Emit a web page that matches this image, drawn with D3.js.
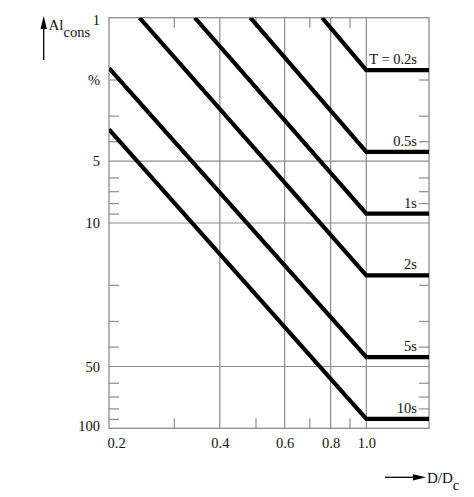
<!DOCTYPE html>
<html>
<head>
<meta charset="utf-8">
<script src="https://cdn.jsdelivr.net/npm/d3@7/dist/d3.min.js"></script>
<style>
  html, body { margin: 0; padding: 0; background: #fff; }
  svg { display: block; }
  text { font-family: "Liberation Serif", "DejaVu Serif", serif; fill: #111; }
</style>
</head>
<body>
<script>
// ---- data ----
const curveLabels = ["T = 0.2s", "0.5s", "1s", "2s", "5s", "10s"];
const startX      = [0.758, 0.484, 0.342, 0.242, 0.2, 0.2];   // D/Dc where each curve enters the plot
const startY      = [1, 1, 1, 1, 1.76, 3.5];                   // AIcons at that entry point (%)
const kneeX       = [1.0, 1.0, 1.0, 1.0, 1.0, 1.0];
const plateauY    = [1.8, 4.5, 9, 18, 45, 90];                 // AIcons for D/Dc >= 1 (%)
const xDomain     = [0.2, 1.48];
const yDomain     = [1, 100];
const xGridValues = [0.4, 0.6, 0.8, 1.0];
const xMinorTicks = [0.3, 0.5, 0.7, 0.9];
const xTickLabels = ["0.2", "0.4", "0.6", "0.8", "1.0"];
const xTickValues = [0.2, 0.4, 0.6, 0.8, 1.0];
const yGridValues = [5, 10, 50];
const yMinorTicks = [2, 3, 4, 6, 7, 8, 9, 20, 30, 40, 60, 70, 80, 90];
const yTickValues = [1, 2, 5, 10, 50, 100];
const yTickLabels = ["1", "%", "5", "10", "50", "100"];

// ---- layout ----
const W = 474, H = 497;
const L = 109, R = 429, T = 17.7, B = 428.3;
const gray = "#8c8c8c";
const fs = "14.5px";

const svg = d3.select("body").append("svg").attr("width", W).attr("height", H);

const x = d3.scaleLog().domain(xDomain).range([L, R]);
const y = d3.scaleLog().domain(yDomain).range([T, B]);

// grid lines
svg.append("g").selectAll("line").data(xGridValues).join("line")
  .attr("x1", d => x(d)).attr("x2", d => x(d)).attr("y1", T).attr("y2", B)
  .attr("stroke", gray).attr("stroke-width", 1.2);
svg.append("g").selectAll("line").data(yGridValues).join("line")
  .attr("y1", d => y(d)).attr("y2", d => y(d)).attr("x1", L).attr("x2", R)
  .attr("stroke", gray).attr("stroke-width", 1.2);

// minor ticks via d3 axes (inward)
function styleAxis(g) {
  g.select(".domain").remove();
  g.selectAll(".tick line").attr("stroke", gray).attr("stroke-width", 1.2);
  g.selectAll(".tick text").remove();
}
svg.append("g").attr("transform", `translate(${L},0)`)
  .call(d3.axisLeft(y).tickValues(yMinorTicks).tickSize(-10).tickFormat("")).call(styleAxis);
svg.append("g").attr("transform", `translate(${R},0)`)
  .call(d3.axisRight(y).tickValues(yMinorTicks).tickSize(-10).tickFormat("")).call(styleAxis);
svg.append("g").attr("transform", `translate(0,${B})`)
  .call(d3.axisBottom(x).tickValues(xMinorTicks).tickSize(-10).tickFormat("")).call(styleAxis);
svg.append("g").attr("transform", `translate(0,${T})`)
  .call(d3.axisTop(x).tickValues(xMinorTicks).tickSize(-10).tickFormat("")).call(styleAxis);

// frame
svg.append("rect").attr("x", L).attr("y", T).attr("width", R - L).attr("height", B - T)
  .attr("fill", "none").attr("stroke", gray).attr("stroke-width", 1.3);

// y labels
const yl = svg.append("g").attr("transform", `translate(${L},0)`)
  .call(d3.axisLeft(y).tickValues(yTickValues).tickSize(0).tickPadding(9)
    .tickFormat((d, i) => yTickLabels[i]));
yl.select(".domain").remove();
yl.selectAll(".tick text").attr("font-size", fs).attr("font-family", "Liberation Serif").attr("fill", "#111");
yl.selectAll(".tick").filter(d => d === 1).select("text").attr("dy", "0.5em");
yl.selectAll(".tick").filter(d => d === 100).select("text").attr("dy", "0.15em");

// x labels
const xl = svg.append("g").attr("transform", `translate(0,${B})`)
  .call(d3.axisBottom(x).tickValues(xTickValues).tickSize(0).tickPadding(9)
    .tickFormat((d, i) => xTickLabels[i]));
xl.select(".domain").remove();
xl.selectAll(".tick text").attr("font-size", fs).attr("font-family", "Liberation Serif").attr("fill", "#111");
xl.selectAll(".tick").filter(d => d === 0.2).select("text").attr("text-anchor", "start").attr("dx", "-2");

// curves
const line = d3.line().x(d => x(d[0])).y(d => y(d[1]));
const clip = svg.append("clipPath").attr("id", "clip").append("rect")
  .attr("x", L).attr("y", T).attr("width", R - L).attr("height", B - T);
curveLabels.forEach((lab, i) => {
  const pts = [[startX[i], startY[i]], [kneeX[i], plateauY[i]], [xDomain[1], plateauY[i]]];
  svg.append("path").datum(pts).attr("d", line)
    .attr("fill", "none").attr("stroke", "#000").attr("stroke-width", 4.2)
    .attr("stroke-linejoin", "miter").attr("clip-path", "url(#clip)");
  svg.append("text").attr("x", 417).attr("y", y(plateauY[i]) - 6)
    .attr("text-anchor", "end").attr("font-size", fs).text(lab);
});

// y axis title with arrow
svg.append("line").attr("x1", 43.7).attr("x2", 43.7).attr("y1", 60).attr("y2", 26)
  .attr("stroke", "#000").attr("stroke-width", 1.3);
svg.append("path").attr("d", "M43.7,16 L40.5,29 L46.9,29 Z").attr("fill", "#000");
const yt = svg.append("text").attr("x", 48.5).attr("y", 30).attr("font-size", "15px");
yt.append("tspan").text("Al");
yt.append("tspan").attr("dy", 7).attr("font-size", "14.5px").text("cons");

// x axis title with arrow
svg.append("line").attr("x1", 385).attr("x2", 415).attr("y1", 477.3).attr("y2", 477.3)
  .attr("stroke", "#000").attr("stroke-width", 1.3);
svg.append("path").attr("d", "M426,477.3 L413,474.2 L413,480.4 Z").attr("fill", "#000");
const xt = svg.append("text").attr("x", 427).attr("y", 482.5).attr("font-size", "15px");
xt.append("tspan").text("D/D");
xt.append("tspan").attr("dy", 7).attr("font-size", "14.5px").text("c");
</script>
</body>
</html>
